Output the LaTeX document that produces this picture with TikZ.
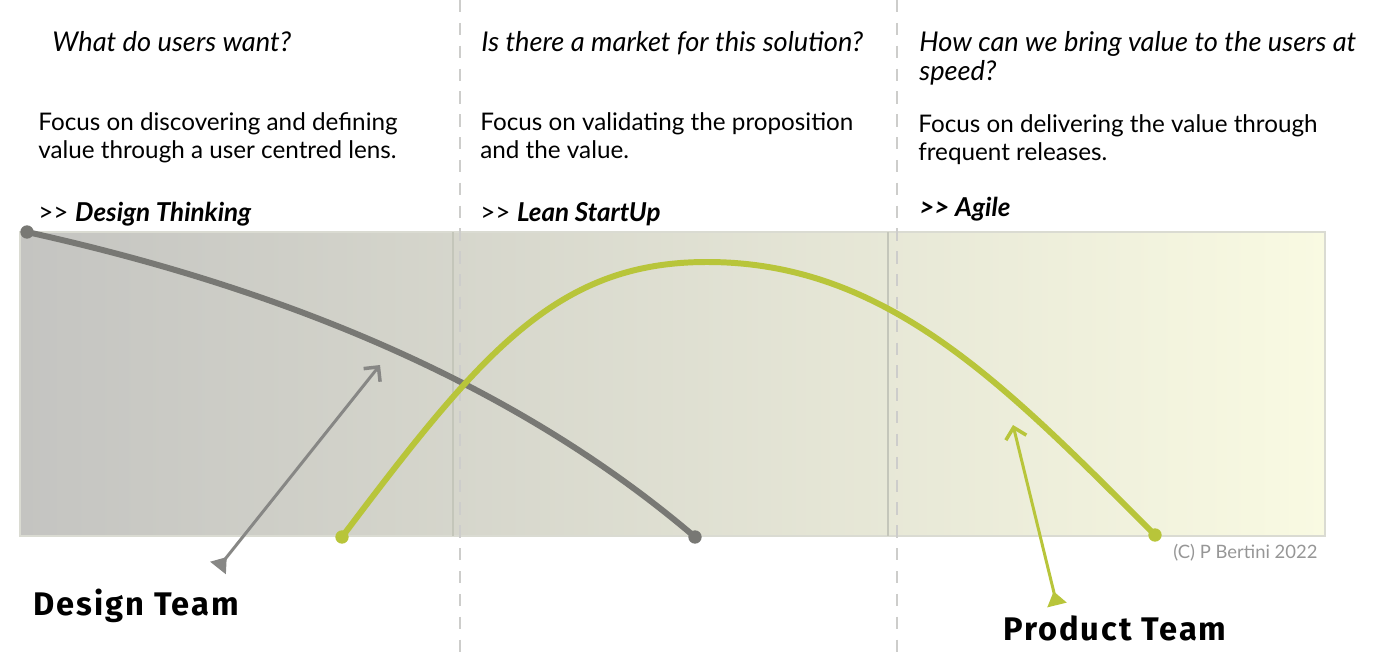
\documentclass[tikz,border=0pt]{standalone}
\usepackage{fontspec}
\setmainfont{Lato}
\newfontfamily\handfont{Fira Sans}[LetterSpace=6]
\usetikzlibrary{arrows.meta,positioning}
\definecolor{bandleft}{RGB}{196,196,193}
\definecolor{bandright}{RGB}{249,250,226}
\definecolor{bandedge}{RGB}{218,219,210}
\definecolor{paneledge}{RGB}{196,198,186}
\definecolor{guidegray}{RGB}{205,205,203}
\definecolor{designgray}{RGB}{120,120,116}
\definecolor{arrowgray}{RGB}{135,135,133}
\definecolor{productgreen}{RGB}{184,197,58}
\definecolor{copygray}{RGB}{150,150,150}
\begin{document}
\begin{tikzpicture}[x=0.02cm, y=-0.02cm,
    body/.style={anchor=base west, inner sep=0pt, align=left,
      font=\fontsize{13.8}{15.4}\selectfont},
    question/.style={body, font=\fontsize{15.5}{16}\selectfont\itshape},
    marker/.style={body, font=\fontsize{14.8}{16}\selectfont},
    hand/.style={anchor=base west, inner sep=0pt,
      font=\handfont\bfseries\fontsize{18.6}{20}\selectfont},
    curve/.style={line width=3.4pt, line cap=round, line join=round},
    pointer/.style={line width=1.7pt,
      arrows={Triangle[reversed, length=8pt, width=11pt]-Straight Barb[length=6pt, width=12pt, line width=2pt]}}]
  \useasboundingbox (0,0) rectangle (1400,659);

  \shade[left color=bandleft, right color=bandright] (20,232) rectangle (1325,536);
  \draw[bandedge, line width=1.2pt] (20,232) rectangle (1325,536);
  \foreach \x in {453,888}
    \draw[paneledge, line width=1.5pt] (\x,232) -- (\x,536);
  \foreach \x in {460,897}
    \draw[guidegray, line width=1pt, dash pattern=on 7pt off 6pt] (\x,0) -- (\x,659);

  \node[question] (q1) at (52,51.7) {What do users want?};
  \node[question] (q2) at (481,51.7) {Is there a market for this solution?};
  \node[question] (q3) at (919,80) {How can we bring value to the users at\\speed?};

  \node[body] (f1) at (38,158) {Focus on discovering and defining\\value through a user centred lens.};
  \node[body] (f2) at (480,158) {Focus on validating the proposition\\and the value.};
  \node[body] (f3) at (918,160) {Focus on delivering the value through\\frequent releases.};

  \node[marker] (m1) at (38,221.7) {>{}> \textbf{\itshape Design Thinking}};
  \node[marker] (m2) at (480,221.7) {>{}> \textbf{\itshape Lean StartUp}};
  \node[marker] (m3) at (919,216.7) {\textbf{\itshape >{}> Agile}};

  \coordinate (dstart) at (27,232);
  \coordinate (dend) at (695,537);
  \coordinate (pstart) at (342,537);
  \coordinate (ptop) at (707,262);
  \coordinate (pend) at (1155,535);

  \draw[curve, designgray] (dstart) .. controls (308,294) and (530,396) .. (dend);
  \draw[curve, productgreen] (pstart) .. controls (482,351) and (557,262) .. (ptop)
    .. controls (887,262) and (1005,385) .. (pend);
  \fill[designgray] (dstart) circle[radius=3.8pt] (dend) circle[radius=3.8pt];
  \fill[productgreen] (pstart) circle[radius=3.8pt] (pend) circle[radius=3.8pt];

  \node[hand] (dteam) at (33,615) {Design Team};
  \node[hand] (pteam) at (1003,640) {Product Team};
  \node[anchor=base west, inner sep=0pt, text=copygray,
    font=\fontsize{10.5}{12}\selectfont] (copy) at (1173,558) {(C) P Bertini 2022};

  \coordinate (dtail) at (218,568);
  \coordinate (dtip) at (380,365);
  \coordinate (ptail) at (1057,605);
  \coordinate (ptip) at (1013,425);
  \draw[pointer, arrowgray] (dtail) -- (dtip);
  \draw[pointer, productgreen] (ptail) -- (ptip);
\end{tikzpicture}
\end{document}
